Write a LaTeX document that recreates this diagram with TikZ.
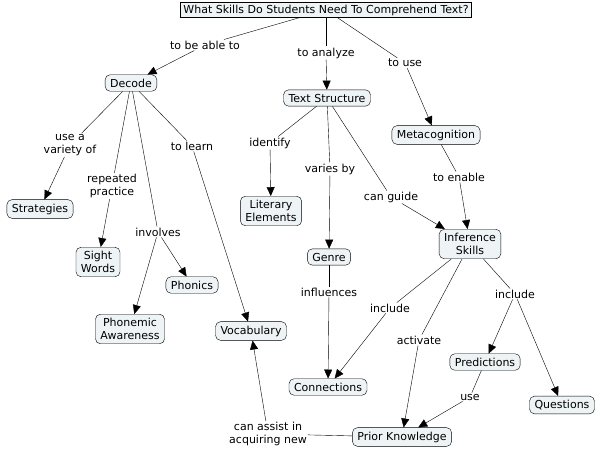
\documentclass[tikz,border=0pt]{standalone}
\usepackage{fontspec}
\setmainfont{DejaVu Sans}
\usetikzlibrary{arrows.meta}
\tikzset{
  concept/.style={draw, rounded corners=5pt, fill=cfill, align=center,
    font=\fontsize{11}{13}\selectfont, inner xsep=5pt, inner ysep=4pt},
  link/.style={align=center, font=\fontsize{11}{13}\selectfont, inner sep=1pt, fill=white},
  arr/.style={-{Triangle[length=9pt,width=8pt]}}
}
\definecolor{cfill}{HTML}{EEF3F6}
\begin{document}
\begin{tikzpicture}[x=1pt,y=-1pt]
\useasboundingbox (0,0) rectangle (601,455);
% Concepts
\node[concept, rounded corners=0pt, inner ysep=2pt, inner xsep=3pt] (title) at (326,10) {What Skills Do Students Need To Comprehend Text?};
\node[concept] (decode) at (131,83) {Decode};
\node[concept] (textstruct) at (327,98) {Text Structure};
\node[concept] (meta) at (436,135) {Metacognition};
\node[concept] (strat) at (40,209) {Strategies};
\node[concept] (literary) at (271,211) {Literary\\Elements};
\node[concept] (infer) at (470,244) {Inference\\Skills};
\node[concept] (sight) at (98,262) {Sight\\Words};
\node[concept] (phonics) at (192,285) {Phonics};
\node[concept] (genre) at (329,257) {Genre};
\node[concept] (phonemic) at (130,329) {Phonemic\\Awareness};
\node[concept] (vocab) at (251,331) {Vocabulary};
\node[concept] (predict) at (485,362) {Predictions};
\node[concept] (quest) at (562,405) {Questions};
\node[concept] (connect) at (328,387) {Connections};
\node[concept] (prior) at (402,437) {Prior Knowledge};
% Link labels
\node[link] (l1) at (205,45) {to be able to};
\node[link] (l2) at (326,53) {to analyze};
\node[link] (l3) at (405,63) {to use};
\node[link] (l4) at (70,145) {use a\\variety of};
\node[link] (l5) at (112,186) {repeated\\practice};
\node[link] (l6) at (158,232) {involves};
\node[link] (l7) at (192,146) {to learn};
\node[link] (l8) at (270,143) {identify};
\node[link] (l9) at (330,169) {varies by};
\node[link] (l10) at (391,197) {can guide};
\node[link] (l11) at (459,177) {to enable};
\node[link] (l12) at (329,292) {influences};
\node[link] (l13) at (390,308) {include};
\node[link] (l14) at (419,340) {activate};
\node[link] (l15) at (515,294) {include};
\node[link] (l16) at (470,397) {use};
\node[link] (l17) at (268,434) {can assist in\\acquiring new};
% Connectors
\draw (title) -- (l1); \draw[arr] (l1) -- (decode);
\draw (title) -- (l2); \draw[arr] (l2) -- (textstruct);
\draw (title) -- (l3); \draw[arr] (l3) -- (meta);
\draw (decode) -- (l4); \draw[arr] (l4) -- (strat);
\draw (decode) -- (l5); \draw[arr] (l5) -- (sight);
\draw (decode) -- (l6); \draw[arr] (l6) -- (phonics);
\draw[arr] (l6) -- (phonemic);
\draw (decode) -- (l7); \draw[arr] (l7) -- (vocab);
\draw (textstruct) -- (l8); \draw[arr] (l8) -- (literary);
\draw (textstruct) -- (l9); \draw[arr] (l9) -- (genre);
\draw (textstruct) -- (l10); \draw[arr] (l10) -- (infer);
\draw (meta) -- (l11); \draw[arr] (l11) -- (infer);
\draw (genre) -- (l12); \draw[arr] (l12) -- (connect);
\draw (infer) -- (l13); \draw[arr] (l13) -- (connect);
\draw (infer) -- (l14); \draw[arr] (l14) -- (prior);
\draw (infer) -- (l15); \draw[arr] (l15) -- (predict);
\draw[arr] (l15) -- (quest);
\draw (predict) -- (l16); \draw[arr] (l16) -- (prior);
\draw (prior) -- (l17); \draw[arr] (l17) -- (vocab);
\end{tikzpicture}
\end{document}
